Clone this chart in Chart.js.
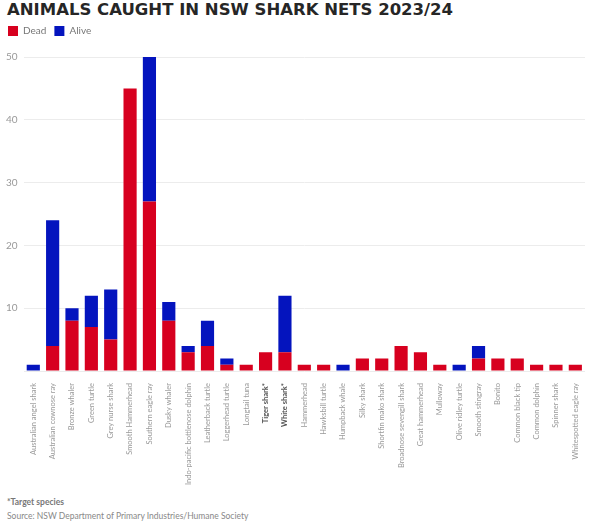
<!DOCTYPE html>
<html>
<head>
<meta charset="utf-8">
<script src="https://cdn.jsdelivr.net/npm/chart.js@4"></script>
<style>
  body { margin: 0; background: #fff; font-family: Lato, "Open Sans", sans-serif; }
  #wrap { position: relative; width: 590px; height: 525px; }
  #title { position: absolute; left: 7px; top: 0px; font-family: "DejaVu Sans", sans-serif; font-size: 16.5px; font-weight: 700; color: #262626; white-space: nowrap; }
  #box { position: absolute; left: 0; top: 18px; width: 590px; height: 471px; }
  #note { position: absolute; left: 7px; top: 497px; font-size: 8.5px; font-weight: 700; color: #777; }
  #source { position: absolute; left: 7px; top: 511px; font-size: 8.5px; color: #888; }
</style>
</head>
<body>
<div id="wrap">
  <div id="title">ANIMALS CAUGHT IN NSW SHARK NETS 2023/24</div>
  <div id="box"><canvas id="chart"></canvas></div>
  <div id="note">*Target species</div>
  <div id="source">Source: NSW Department of Primary Industries/Humane Society</div>
</div>
<script>
const species = [
  "Australian angel shark", "Australian cownose ray", "Bronze whaler", "Green turtle",
  "Grey nurse shark", "Smooth Hammerhead", "Southern eagle ray", "Dusky whaler",
  "Indo-pacific bottlenose dolphin", "Leatherback turtle", "Loggerhead turtle", "Longtail tuna",
  "Tiger shark*", "White shark*", "Hammerhead", "Hawksbill turtle", "Humpback whale",
  "Silky shark", "Shortfin mako shark", "Broadnose sevengill shark", "Great hammerhead",
  "Mulloway", "Olive ridley turtle", "Smooth stingray", "Bonito", "Common black tip",
  "Common dolphin", "Spinner shark", "Whitespotted eagle ray"
];
const dead =  [0, 4, 8, 7, 5, 45, 27, 8, 3, 4, 1, 1, 3, 3, 1, 1, 0, 2, 2, 4, 3, 1, 0, 2, 2, 2, 1, 1, 1];
const alive = [1, 20, 2, 5, 8, 0, 23, 3, 1, 4, 1, 0, 0, 9, 0, 0, 1, 0, 0, 0, 0, 0, 1, 2, 0, 0, 0, 0, 0];
const yTicks = [0, 10, 20, 30, 40, 50];

const RED = "#d7001f";
const BLUE = "#0414be";

const isTarget = (i) => species[i].endsWith("*");

// push the plot area down a little below the legend
const legendGap = {
  id: "legendGap",
  beforeInit(chart) {
    const fit = chart.legend.fit;
    chart.legend.fit = function () {
      fit.call(this);
      this.height += 11;
    };
  }
};

new Chart(document.getElementById("chart"), {
  type: "bar",
  data: {
    labels: species,
    datasets: [
      { label: "Dead", data: dead, backgroundColor: RED, barPercentage: 0.68, categoryPercentage: 1 },
      { label: "Alive", data: alive, backgroundColor: BLUE, barPercentage: 0.68, categoryPercentage: 1 }
    ]
  },
  options: {
    animation: false,
    responsive: true,
    maintainAspectRatio: false,
    layout: { padding: { left: 0, right: 5, top: 0, bottom: 0 } },
    plugins: {
      legend: {
        position: "top",
        align: "start",
        labels: {
          boxWidth: 10,
          boxHeight: 10,
          padding: 8,
          color: "#777",
          font: { family: "Lato", size: 10 }
        }
      },
      tooltip: { enabled: false }
    },
    scales: {
      x: {
        stacked: true,
        grid: { display: false },
        border: { display: false },
        ticks: {
          autoSkip: false,
          minRotation: 90,
          maxRotation: 90,
          padding: 4,
          color: (ctx) => isTarget(ctx.index) ? "#555" : "#999",
          font: (ctx) => ({ family: "Lato", size: 7.5, weight: isTarget(ctx.index) ? "bold" : "normal" })
        }
      },
      y: {
        stacked: true,
        min: yTicks[0],
        max: yTicks[yTicks.length - 1],
        afterBuildTicks: (axis) => { axis.ticks = yTicks.map(v => ({ value: v })); },
        grid: { color: "#ececec", drawTicks: false },
        border: { display: false },
        ticks: {
          padding: 6,
          color: "#999",
          font: { family: "Lato", size: 10 },
          callback: (v) => v === 0 ? "" : v
        }
      }
    }
  },
  plugins: [legendGap]
});
</script>
</body>
</html>
